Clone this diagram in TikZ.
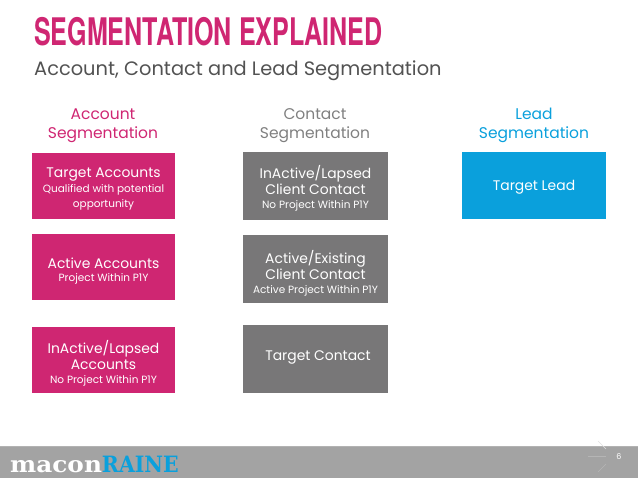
\documentclass[tikz,border=0pt]{standalone}
\usepackage{fontspec}
\setmainfont{Poppins}
\newfontfamily\titlefont{TeX Gyre Heros}
\newfontfamily\logofont{DejaVu Serif}
\usepackage{tikz}
\definecolor{segpink}{HTML}{CF2672}
\definecolor{seggray}{HTML}{787778}
\definecolor{segblue}{HTML}{0AA0DC}
\definecolor{footgray}{HTML}{A3A3A3}
\newcommand{\subtxt}{\fontsize{10.5}{15}\selectfont}

\begin{document}
\begin{tikzpicture}[
    x = 1pt, y = -1pt,
    segbox/.style = {minimum width = 143pt, minimum height = 66pt, inner sep = 0pt,
      align = center, text = white, font = \fontsize{13.9}{17}\selectfont},
    pinkbox/.style = {segbox, fill = segpink},
    graybox/.style = {segbox, fill = seggray, minimum width = 145pt, minimum height = 68pt},
    bluebox/.style = {segbox, fill = segblue, minimum width = 144pt, minimum height = 67pt},
    heading/.style = {align = center, font = \fontsize{15.5}{19}\selectfont}
  ]
\useasboundingbox (0,0) rectangle (638,478);
% title
\node[anchor = west, text = segpink, inner sep = 0pt, xscale = 0.66,
  font = \titlefont\bfseries\fontsize{38}{38}\selectfont] (title) at (34,32) {SEGMENTATION EXPLAINED};
\node[anchor = west, text = black!68, inner sep = 0pt, font = \fontsize{19.4}{22}\selectfont]
  (subtitle) at (34,71) {Account, Contact and Lead Segmentation};
% column headings
\node[heading, text = segpink] (accounthead) at (103,126) {Account\\Segmentation};
\node[heading, text = black!50] (contacthead) at (315,126) {Contact\\Segmentation};
\node[heading, text = segblue] (leadhead) at (534,125) {Lead\\Segmentation};
% account boxes
\node[pinkbox] (targetaccounts) at (103.5,186) {Target Accounts\\[-2pt]{\subtxt Qualified with potential}\\[-2pt]{\subtxt opportunity}\\[-20pt]};
\node[pinkbox] (activeaccounts) at (103.5,267) {Active Accounts\\[-4pt]{\subtxt Project Within P1Y}\\[-22pt]};
\node[pinkbox] (inactiveaccounts) at (103.5,360) {InActive/Lapsed\\[-1pt]Accounts\\[-3pt]{\subtxt No Project Within P1Y}\\[-21pt]};
% contact boxes
\node[graybox] (inactivecontact) at (315.5,186) {InActive/Lapsed\\[-1pt]Client Contact\\[-3pt]{\subtxt No Project Within P1Y}\\[-19pt]};
\node[graybox] (activecontact) at (315.5,269) {Active/Existing\\[-1pt]Client Contact\\[-3pt]{\subtxt Active Project Within P1Y}\\[-23pt]};
\node[graybox] (targetcontact) at (315.5,359) {\hspace*{5pt}Target Contact\\[-11pt]};
% lead box
\node[bluebox] (targetlead) at (534,185.5) {Target Lead\\[-17pt]};
% footer
\fill[footgray] (0,447) rectangle (638,478);
\draw[black!30] (0,446.5) -- (638,446.5);
\draw[black!12] (598,441) -- (606,449);
\draw[white, opacity = 0.2] (588,456) -- (606,456);
\draw[white, opacity = 0.2] (598,472) -- (606,464);
\node[anchor = west, inner sep = 0pt, font = \logofont\bfseries\fontsize{22.5}{22.5}\selectfont] (logo) at (10,464)
  {\textcolor{white}{\scalebox{1.1}[1]{macon}}\textcolor{segblue}{\scalebox{0.91}[1]{RAINE}}};
\node[text = white, inner sep = 0pt, font = \fontsize{8}{10}\selectfont] (pagenum) at (619,457) {6};
%
\end{tikzpicture}
\end{document}
